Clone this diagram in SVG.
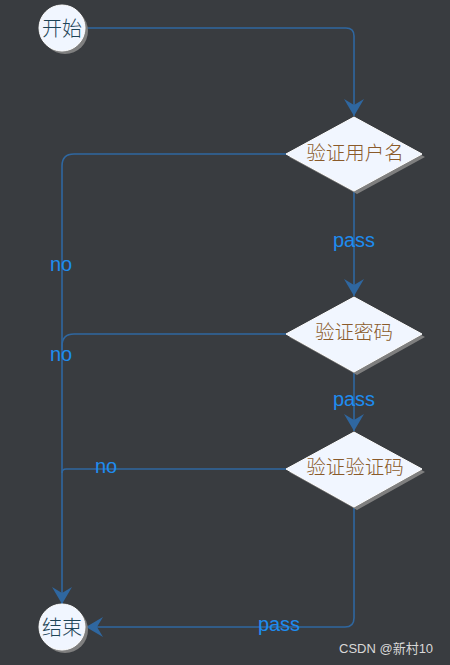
<svg xmlns="http://www.w3.org/2000/svg" width="450" height="665" viewBox="0 0 450 665">
<style>
.bg{fill:#393c40}
.shadow{fill:#7f7f7f}
.shape{fill:#f1f6ff;stroke:#ffffff;stroke-width:1}
.ctext{font-family:"Noto Sans CJK SC",sans-serif;font-size:20px;font-weight:300;fill:#1d4457;text-anchor:middle;dominant-baseline:central}
.dtext{font-family:"Noto Sans CJK SC",serif;font-size:19.5px;font-weight:300;fill:#8a5a2a;text-anchor:middle;dominant-baseline:central}
.edge{fill:none;stroke:#2f67a0;stroke-width:1.6}
.lbl{font-family:"Liberation Sans",Arial,sans-serif;font-size:20px;fill:#1e8cf0;text-anchor:middle}
.wm{font-family:"Liberation Sans","Noto Sans CJK SC",sans-serif;font-size:13px;fill:#d8d8d8}
</style>
<defs>
<marker id="arr" viewBox="0 0 18 20" refX="17" refY="10" markerWidth="18" markerHeight="20" markerUnits="userSpaceOnUse" orient="auto">
<path d="M0,0 L17,10 L0,20 L6,10 Z" fill="#2f67a0"/>
</marker>
</defs>
<rect class="bg" width="450" height="665"/>
<g id="connectors">
<path class="edge" d="M84,28 H346 Q354,28 354,36 V116" marker-end="url(#arr)"/>
<path class="edge" d="M286,154 H74 Q62,154 62,166 V604" marker-end="url(#arr)"/>
<path class="edge" d="M354,191 V296" marker-end="url(#arr)"/>
<path class="edge" d="M286,334 H74 Q62,334 62,346 V350"/>
<path class="edge" d="M354,372 V431" marker-end="url(#arr)"/>
<path class="edge" d="M286,469 H66 Q62,469 62,473"/>
<path class="edge" d="M354,507 V618 Q354,627 345,627 H86" marker-end="url(#arr)"/>
<text class="lbl" x="61" y="271">no</text>
<text class="lbl" x="354" y="247">pass</text>
<text class="lbl" x="61" y="361">no</text>
<text class="lbl" x="354" y="406">pass</text>
<text class="lbl" x="106" y="473">no</text>
<text class="lbl" x="279" y="631">pass</text>
</g>
<g id="start">
<circle class="shadow" cx="65" cy="31" r="23"/>
<circle class="shape" cx="62" cy="28" r="23"/>
<text class="ctext" x="62" y="27">开始</text>
</g>
<g id="end">
<circle class="shadow" cx="65" cy="630" r="23"/>
<circle class="shape" cx="62" cy="627" r="23"/>
<text class="ctext" x="62" y="626">结束</text>
</g>
<g id="checkUser">
<polygon class="shadow" points="357,120 425,157 357,194 289,157"/>
<polygon class="shape" points="354,117 422,154 354,191 286,154"/>
<text class="dtext" x="355" y="151">验证用户名</text>
</g>
<g id="checkPwd">
<polygon class="shadow" points="357,300 425,337 357,375 289,337"/>
<polygon class="shape" points="354,297 422,334 354,372 286,334"/>
<text class="dtext" x="354" y="330">验证密码</text>
</g>
<g id="checkCode">
<polygon class="shadow" points="357,435 425,472 357,510 289,472"/>
<polygon class="shape" points="354,432 422,469 354,507 286,469"/>
<text class="dtext" x="355" y="465">验证验证码</text>
</g>
<text class="wm" x="339" y="653">CSDN @新村10</text>
</svg>
